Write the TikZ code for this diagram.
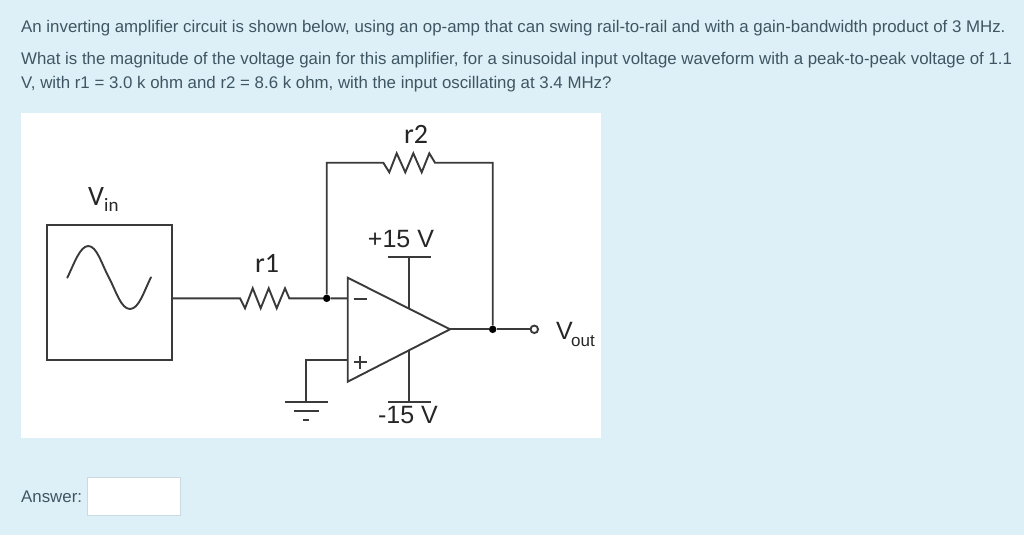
\documentclass[tikz,border=0pt]{standalone}
\usepackage{fontspec}
\setmainfont{Liberation Sans}
\newfontfamily\calib{Carlito}
\definecolor{pagebg}{HTML}{DEF0F7}
\definecolor{bodytext}{HTML}{3E5663}
\definecolor{wirecol}{HTML}{3A3A3A}
\definecolor{boxedge}{HTML}{CBD9E0}
\tikzset{
  wire/.style={draw=wirecol,line width=1.9pt,line join=miter},
  para/.style={inner sep=0pt,anchor=base west,text=bodytext,font=\fontsize{16.85}{18}\selectfont},
  calibtext/.style={inner sep=0pt,anchor=base,text=black!85,font=\calib\fontsize{28}{30}\selectfont},
  arialtext/.style={inner sep=0pt,anchor=base,text=black!85,font=\fontsize{25}{28}\selectfont},
  junction/.style={circle,fill=black,inner sep=0pt,minimum size=7.5pt},
  terminal/.style={circle,draw=wirecol,fill=white,line width=1.9pt,inner sep=0pt,minimum size=7.5pt},
}
\begin{document}
\begin{tikzpicture}[x=1pt,y=-1pt]
\useasboundingbox (0,0) rectangle (1024,535);
\fill[pagebg] (0,0) rectangle (1024,535);
\fill[white] (21,113) rectangle (601,438);
% question text
\node[para] (q1) at (21,33) {An inverting amplifier circuit is shown below, using an op-amp that can swing rail-to-rail and with a gain-bandwidth product of 3 MHz.};
\node[para] (q2) at (21,64) {What is the magnitude of the voltage gain for this amplifier, for a sinusoidal input voltage waveform with a peak-to-peak voltage of 1.1};
\node[para] (q3) at (21,88) {V, with r1 = 3.0 k ohm and r2 = 8.6 k ohm, with the input oscillating at 3.4 MHz?};
\node[para] (ans) at (21,502) {Answer:};
\node[draw=boxedge,fill=white,line width=1pt,minimum width=93pt,minimum height=38pt,inner sep=0pt] (ansbox) at (134,496.5) {};
% source
\node[wire,fill=none,minimum width=125pt,minimum height=135pt,inner sep=0pt] (src) at (109.2,292.5) {};
\draw[wire,line cap=round] (67.3,277.7) .. controls (74,264) and (80,246) .. (88.3,246)
   .. controls (97,246) and (102,265) .. (109,277.7)
   .. controls (116,291) and (121,309) .. (130,309)
   .. controls (139,309) and (144,291) .. (151,277.3);
\node[inner sep=0pt,anchor=base west,text=black!85,font=\calib\fontsize{28}{30}\selectfont] (vin) at (88,205) {V};
\node[inner sep=0pt,anchor=base west,text=black!85,font=\calib\fontsize{19}{20}\selectfont] (vinsub) at (104,211) {in};
% anchors
\coordinate (r1a) at (240,298.3);
\coordinate (r1b) at (289.3,298.3);
\coordinate (r2a) at (383.3,162.7);
\coordinate (r2b) at (435,162.7);
\coordinate (nw) at (347.7,277.7);
\coordinate (sw) at (347.7,381.7);
\coordinate (tip) at (450,329.3);
\coordinate (inv) at (347.7,298.3);
\coordinate (noninv) at (347.7,360);
\coordinate (gndc) at (306,360);
\coordinate (gnd) at (306,401.7);
\coordinate (fbl) at (326.7,162.7);
\coordinate (fbr) at (492.7,162.7);
\coordinate (railtop) at (409.3,256.7);
\coordinate (railtopend) at (409.3,308);
\coordinate (railbot) at (409.3,401.7);
\coordinate (railbotend) at (409.3,350.7);
\node[junction] (j1) at (326.7,298.3) {};
\node[junction] (j2) at (492.7,329.3) {};
% wires
\draw[wire] (src.east |- r1a) -- (r1a)
  -- (245,308.3) -- (252.7,288.3) -- (260.7,308.3) -- (268.7,288.3) -- (276.7,308.3) -- (285,288.3) -- (r1b)
  -- (j1) -- (inv);
\draw[wire] (j1) -- (fbl) -- (r2a)
  -- (389.3,172.3) -- (396.7,153.3) -- (405.3,172.3) -- (413.3,153.3) -- (421.7,172.3) -- (429.3,153.3) -- (r2b)
  -- (fbr) -- (j2);
\draw[wire] (nw) -- (tip) -- (sw) -- cycle;
\draw[wire] (tip) -- (j2) -- (534.3,329.3);
\node[terminal] (out) at (534.3,329.3) {};
\draw[wire] (noninv) -- (gndc) -- (gnd);
\draw[wire] (railtop) -- (railtopend);
\draw[wire] (railbotend) -- (railbot);
\draw[wire] (388,256.7) -- (431,256.7);
\draw[wire] (388,401.7) -- (431,401.7);
% ground
\draw[wire] (285,401.7) -- (328,401.7);
\draw[wire] (294,410.7) -- (319,410.7);
\draw[wire] (302.7,420) -- (309,420);
% input signs
\draw[wire] (353.5,299) -- (367,299);
\draw[wire] (353.5,362) -- (366.5,362);
\draw[wire] (360,355.5) -- (360,368.5);
% labels
\node[calibtext] (r1lab) at (267,272) {r1};
\node[calibtext] (r2lab) at (416,143) {r2};
\node[arialtext] (p15) at (401,247) {+15 V};
\node[arialtext] (m15) at (408,423) {-15 V};
\node[inner sep=0pt,anchor=base west,text=black!85,font=\fontsize{25}{28}\selectfont] (vout) at (556,339) {V};
\node[inner sep=0pt,anchor=base west,text=black!85,font=\fontsize{17}{20}\selectfont] (voutsub) at (571,346) {out};
\end{tikzpicture}
\end{document}
